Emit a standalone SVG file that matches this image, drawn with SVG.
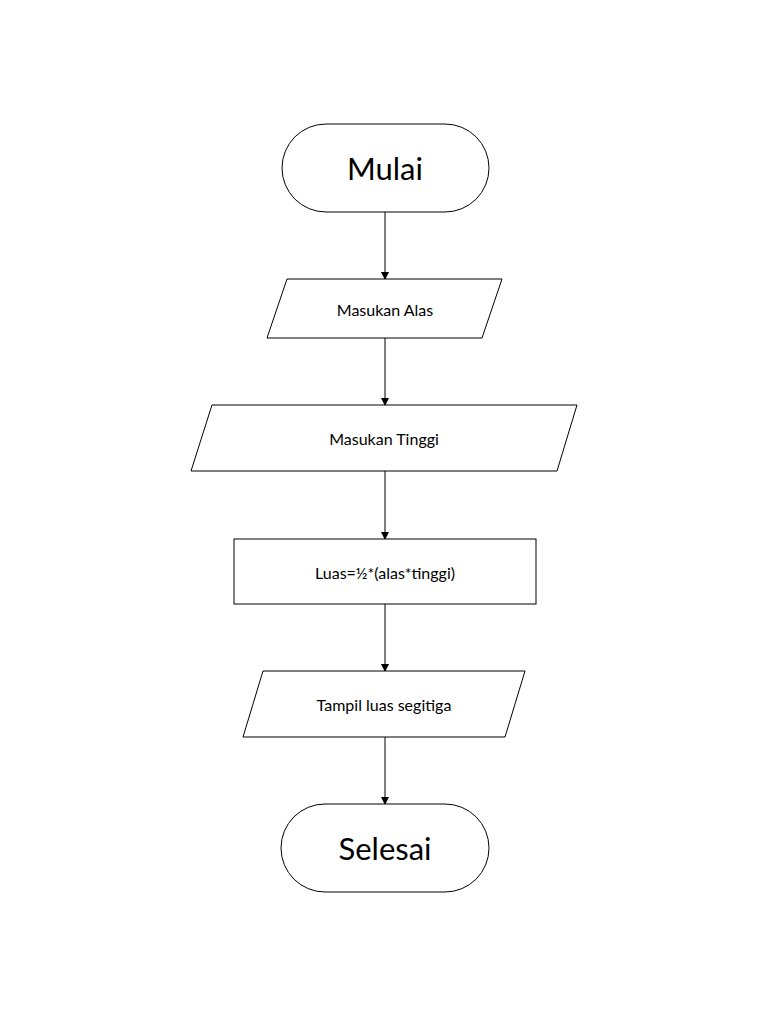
<svg xmlns="http://www.w3.org/2000/svg" width="768" height="1024" viewBox="0 0 768 1024">
<style>
.s{fill:#fff;stroke:#000;stroke-width:1}
.t{font-family:Lato,"Liberation Sans",sans-serif;text-anchor:middle;dominant-baseline:central;fill:#000}
.c{stroke:#000;stroke-width:1;fill:none;marker-end:url(#a)}
</style>
<defs><marker id="a" markerWidth="8" markerHeight="8" refX="7" refY="4" orient="auto" markerUnits="userSpaceOnUse"><path d="M0,0 L8,4 L0,8 Z" fill="#000"/></marker></defs>
<rect width="768" height="1024" fill="#fff"/>
<g id="connectors">
<line class="c" x1="385" y1="212" x2="385" y2="279"/>
<line class="c" x1="385" y1="338" x2="385" y2="405"/>
<line class="c" x1="385" y1="471" x2="385" y2="539"/>
<line class="c" x1="385" y1="604" x2="385" y2="671"/>
<line class="c" x1="385" y1="737" x2="385" y2="804"/>
</g>
<g id="mulai"><rect class="s" x="282" y="124" width="207" height="88" rx="44"/><text class="t" x="385" y="168" font-size="31">Mulai</text></g>
<g id="alas"><polygon class="s" points="287,279 502,279 482,338 267,338"/><text class="t" x="385" y="309" font-size="16">Masukan Alas</text></g>
<g id="tinggi"><polygon class="s" points="212,405 577,405 557,471 191,471"/><text class="t" x="384" y="438" font-size="16">Masukan Tinggi</text></g>
<g id="luas"><rect class="s" x="234" y="539" width="302" height="65"/><text class="t" x="385" y="572" font-size="16">Luas=½*(alas*tinggi)</text></g>
<g id="tampil"><polygon class="s" points="263,671 525,671 505,737 243,737"/><text class="t" x="384" y="704" font-size="16">Tampil luas segitiga</text></g>
<g id="selesai"><rect class="s" x="281" y="804" width="208" height="88" rx="44"/><text class="t" x="385" y="848" font-size="31">Selesai</text></g>
</svg>
